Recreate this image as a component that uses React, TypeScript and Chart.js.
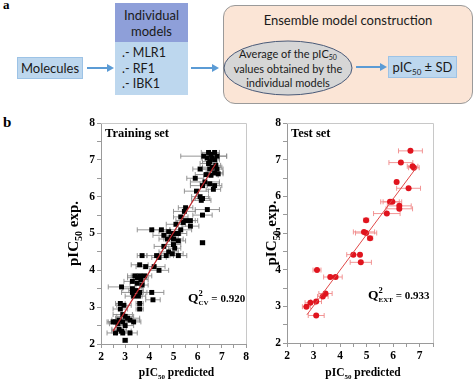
import React, { useEffect, useRef } from 'react';
import { Chart, registerables } from 'chart.js';
Chart.register(...registerables);

// ---------- data ----------
const trainPred = [6.45, 6.7, 6.55, 6.25, 6.8, 6.6, 6.4, 6.7, 6.5, 6.45, 6.75, 6.6, 6.8, 6.5, 6.7, 6.35, 6.55, 6.85, 6.1, 5.9, 6.3, 6.5, 6.7, 6.2, 6.65, 5.95, 6.1, 6.15, 6.2, 5.5, 5.45, 6.4, 6.2, 5.3, 5.5, 5.7, 5.4, 5.1, 5.7, 5.3, 4.1, 4.5, 4.8, 5.0, 5.2, 4.6, 4.9, 5.0, 5.2, 4.75, 6.2, 5.0, 4.6, 5.05, 4.8, 4.95, 5.2, 4.7, 4.3, 3.7, 4.4, 3.6, 3.85, 4.2, 4.4, 3.4, 3.6, 3.8, 3.5, 3.65, 3.3, 3.5, 3.7, 2.85, 3.3, 3.45, 3.3, 3.6, 4.1, 3.35, 3.55, 3.6, 4.15, 2.8, 2.95, 3.6, 2.8, 2.9, 3.0, 3.1, 2.75, 3.2, 2.5, 2.6, 2.7, 2.9, 3.35, 3.0, 2.75, 2.85, 2.6, 2.9, 3.2, 3.0];
const trainExp = [7.2, 7.2, 7.15, 7.1, 7.1, 7.05, 7.05, 7.0, 6.95, 6.9, 6.85, 6.8, 6.75, 6.75, 6.65, 6.6, 6.58, 6.62, 6.75, 6.5, 6.4, 6.35, 6.3, 6.3, 6.2, 6.15, 6.0, 5.9, 5.95, 5.7, 5.6, 5.65, 5.5, 5.45, 5.35, 5.35, 5.3, 5.25, 5.2, 5.1, 5.1, 5.1, 5.05, 5.0, 5.0, 4.95, 4.9, 4.85, 4.8, 4.85, 4.75, 4.7, 4.65, 4.6, 4.5, 4.45, 4.4, 4.4, 4.4, 4.4, 4.35, 4.15, 4.1, 4.1, 4.0, 3.85, 3.85, 3.85, 3.8, 3.75, 3.7, 3.65, 3.6, 3.55, 3.5, 3.45, 3.4, 3.4, 3.4, 3.3, 3.3, 3.1, 3.2, 3.1, 3.05, 2.95, 2.95, 2.8, 2.75, 2.7, 2.65, 2.65, 2.6, 2.6, 2.55, 2.6, 2.6, 2.5, 2.4, 2.35, 2.3, 2.3, 2.3, 2.1];
const trainSd = [0.3, 0.2, 0.35, 0.95, 0.4, 0.3, 0.25, 0.2, 0.3, 0.35, 0.2, 0.4, 0.25, 0.3, 0.35, 0.45, 0.3, 0.2, 0.3, 0.35, 0.6, 0.4, 0.3, 0.5, 0.3, 0.5, 0.35, 0.4, 0.3, 0.3, 0.45, 0.5, 0.4, 0.3, 0.4, 0.3, 0.25, 0.4, 0.35, 0.45, 0.6, 0.35, 0.4, 0.3, 0.35, 0.45, 0.3, 0.4, 0.3, 0.35, 0.1, 0.3, 0.4, 0.25, 0.4, 0.45, 0.35, 0.3, 0.4, 0.2, 0.3, 0.35, 0.4, 0.45, 0.4, 0.3, 0.35, 0.3, 0.4, 0.3, 0.35, 0.3, 0.25, 0.55, 0.4, 0.3, 0.45, 0.3, 0.5, 0.35, 0.3, 0.15, 0.3, 0.2, 0.3, 0.15, 0.3, 0.4, 0.35, 0.5, 0.3, 0.4, 0.25, 0.3, 0.35, 0.45, 0.3, 0.35, 0.3, 0.4, 0.35, 0.25, 0.3, 0.1];

const testPred = [6.65, 6.29, 6.73, 6.78, 6.13, 6.58, 5.88, 5.97, 6.23, 6.23, 5.76, 4.98, 4.9, 4.98, 5.13, 4.5, 4.75, 4.78, 3.13, 3.63, 3.83, 3.45, 3.35, 3.1, 2.88, 2.73, 3.1];
const testExp = [7.24, 6.92, 6.82, 6.78, 6.39, 6.22, 5.85, 5.85, 5.74, 5.66, 5.53, 5.35, 5.03, 5.0, 4.86, 4.41, 4.41, 4.2, 3.99, 3.8, 3.8, 3.35, 3.27, 3.13, 3.1, 2.99, 2.75];
const testSd = [0.45, 0.45, 0.2, 0.2, 0.05, 0.45, 0.35, 0.35, 0.45, 0.5, 0.5, 0.1, 0.4, 0.4, 0.1, 0.25, 0.05, 0.4, 0.15, 0.25, 0.25, 0.25, 0.2, 0.2, 0.2, 0.15, 0.3];

const trainFitX = [2.5, 6.75];
const trainFitY = [2.35, 6.9];
const testFitX = [2.75, 6.88];
const testFitY = [2.77, 6.79];

const trainXMax = 8;
const testXMax = 7.5;
const yMin = 2;
const yMax = 8;

// ---------- helpers ----------
type Part = { text: string; size: number; dy?: number; advance?: boolean };
const SERIF = '"Liberation Serif", "Times New Roman", serif';

function partsWidth(ctx: CanvasRenderingContext2D, parts: Part[]) {
  let w = 0;
  for (const p of parts) {
    ctx.font = `bold ${p.size}px ${SERIF}`;
    if (p.advance !== false) w += ctx.measureText(p.text).width;
  }
  return w;
}

function drawRich(ctx: CanvasRenderingContext2D, parts: Part[], x: number, baseline: number, align: 'left' | 'center') {
  let cx = align === 'center' ? x - partsWidth(ctx, parts) / 2 : x;
  ctx.textAlign = 'left';
  ctx.textBaseline = 'alphabetic';
  for (const p of parts) {
    ctx.font = `bold ${p.size}px ${SERIF}`;
    ctx.fillText(p.text, cx, baseline + (p.dy || 0));
    if (p.advance !== false) cx += ctx.measureText(p.text).width;
  }
}

function makeErrorBars(sd: number[], color: string) {
  return {
    id: 'errorBars',
    beforeDatasetsDraw(chart: any) {
      const meta = chart.getDatasetMeta(1);
      const ds = chart.data.datasets[1];
      const xs = chart.scales.x;
      const ys = chart.scales.y;
      const ctx = chart.ctx;
      ctx.save();
      ctx.strokeStyle = color;
      ctx.lineWidth = 0.9;
      ds.data.forEach((pt: any, i: number) => {
        const x0 = xs.getPixelForValue(pt.x - sd[i]);
        const x1 = xs.getPixelForValue(pt.x + sd[i]);
        const y = ys.getPixelForValue(pt.y);
        ctx.beginPath();
        ctx.moveTo(x0, y);
        ctx.lineTo(x1, y);
        ctx.moveTo(x0, y - 2.5);
        ctx.lineTo(x0, y + 2.5);
        ctx.moveTo(x1, y - 2.5);
        ctx.lineTo(x1, y + 2.5);
        ctx.stroke();
      });
      ctx.restore();
      void meta;
    },
  };
}

function makeDecor(cfg: { label: string; q: Part[]; qdx: number; qdy: number; ytx: number }) {
  return {
    id: 'decor',
    afterDraw(chart: any) {
      const ctx = chart.ctx as CanvasRenderingContext2D;
      const a = chart.chartArea;
      ctx.save();
      // top/right frame
      ctx.strokeStyle = '#c8c8c8';
      ctx.lineWidth = 1;
      ctx.beginPath();
      ctx.moveTo(a.left, a.top + 0.5);
      ctx.lineTo(a.right + 0.5, a.top + 0.5);
      ctx.lineTo(a.right + 0.5, a.bottom);
      ctx.stroke();
      ctx.fillStyle = '#000';
      // panel label
      drawRich(ctx, [{ text: cfg.label, size: 12.5 }], a.left + 4, a.top + 14, 'left');
      // Q^2 annotation
      drawRich(ctx, cfg.q, a.left + cfg.qdx, a.top + cfg.qdy, 'left');
      // x title
      drawRich(ctx, [
        { text: 'pIC', size: 11.5 },
        { text: '50', size: 7, dy: 3 },
        { text: ' predicted', size: 11.5 },
      ], (a.left + a.right) / 2 + 3, chart.height - 5, 'center');
      // y title
      ctx.translate(cfg.ytx, (a.top + a.bottom) / 2);
      ctx.rotate(-Math.PI / 2);
      drawRich(ctx, [
        { text: 'pIC', size: 15 },
        { text: '50', size: 10, dy: 4 },
        { text: ' exp.', size: 15 },
      ], 0, 5, 'center');
      ctx.restore();
    },
  };
}

function axisOpts(min: number, max: number, size: number, isX: boolean) {
  return {
    type: 'linear' as const,
    min,
    max,
    ticks: {
      stepSize: 0.5,
      autoSkip: false,
      maxRotation: 0,
      padding: isX ? 2 : 2,
      color: '#000',
      font: { family: SERIF, weight: 'bold' as const, size: 11.5 },
      callback: (v: any) => (Number.isInteger(v) ? String(v) : ''),
    },
    grid: { drawOnChartArea: false, drawTicks: true, tickLength: 4, color: '#9a9a9a' },
    border: { color: '#9a9a9a', width: 1 },
    afterFit: (s: any) => {
      if (isX) s.height = size;
      else s.width = size;
    },
  };
}

function ScatterPanel(props: {
  left: number; width: number; pred: number[]; exp: number[]; sd: number[];
  fitX: number[]; fitY: number[]; xMax: number; yWidth: number; xHeight: number; padRight: number;
  marker: 'rect' | 'circle'; color: string; barColor: string; lineColor: string; lineWidth: number;
  radius: number; label: string; q: Part[]; qdx: number; qdy: number; ytx: number;
}) {
  const ref = useRef<HTMLCanvasElement>(null);
  useEffect(() => {
    const canvas = ref.current!;
    const pts = props.pred.map((x, i) => ({ x, y: props.exp[i] }));
    const fit = props.fitX.map((x, i) => ({ x, y: props.fitY[i] }));
    const chart = new Chart(canvas, {
      type: 'scatter',
      data: {
        datasets: [
          {
            data: fit,
            showLine: true,
            borderColor: props.lineColor,
            borderWidth: props.lineWidth,
            pointRadius: 0,
            order: 0,
          } as any,
          {
            data: pts,
            pointStyle: props.marker,
            pointRadius: props.radius,
            backgroundColor: props.color,
            borderColor: props.color,
            borderWidth: 0,
            order: 1,
          } as any,
        ],
      },
      options: {
        animation: false,
        responsive: false,
        maintainAspectRatio: false,
        layout: { padding: { top: 10, right: props.padRight, left: 0, bottom: 0 } },
        plugins: { legend: { display: false }, tooltip: { enabled: false } },
        scales: {
          x: axisOpts(2, props.xMax, props.xHeight, true),
          y: axisOpts(yMin, yMax, props.yWidth, false),
        } as any,
      },
      plugins: [
        makeErrorBars(props.sd, props.barColor),
        makeDecor({ label: props.label, q: props.q, qdx: props.qdx, qdy: props.qdy, ytx: props.ytx }),
      ],
    });
    return () => chart.destroy();
  }, []);
  return (
    <canvas
      ref={ref}
      width={props.width}
      height={268}
      style={{ position: 'absolute', left: props.left, top: 113, width: props.width, height: 268 }}
    />
  );
}

const SANS = 'Lato, "Open Sans", "Noto Sans", sans-serif';

function Arrow({ x1, x2, y }: { x1: number; x2: number; y: number }) {
  return (
    <g>
      <line x1={x1} y1={y} x2={x2 - 6} y2={y} stroke="#5b9bd5" strokeWidth={2} />
      <polygon points={`${x2},${y} ${x2 - 7},${y - 4} ${x2 - 7},${y + 4}`} fill="#5b9bd5" />
    </g>
  );
}

export default function App() {
  const box: React.CSSProperties = {
    position: 'absolute', boxSizing: 'border-box', display: 'flex', alignItems: 'center',
    justifyContent: 'center', fontFamily: SANS, color: '#1a1a1a',
  };
  return (
    <div style={{ position: 'absolute', left: 0, top: 0, width: 474, height: 381, overflow: 'hidden', background: '#fff' }}>
      <div style={{ position: 'absolute', left: 3, top: -3, fontFamily: SERIF, fontWeight: 'bold', fontSize: 13 }}>a</div>
      <div style={{ position: 'absolute', left: 3, top: 114, fontFamily: SERIF, fontWeight: 'bold', fontSize: 15 }}>b</div>

      <div style={{ ...box, left: 17, top: 57, width: 66, height: 22, background: '#bdd7ee', border: '1px solid #9dc3e6', fontSize: 13 }}>Molecules</div>

      <div style={{ ...box, left: 115, top: 3, width: 73, height: 39, background: '#8e9fd9', flexDirection: 'column', fontSize: 13, lineHeight: '16px' }}>
        <div>Individual</div>
        <div>models</div>
      </div>
      <div style={{ ...box, left: 115, top: 42, width: 73, height: 53, background: '#bdd7ee', flexDirection: 'column', alignItems: 'flex-start', paddingLeft: 7, fontSize: 12.5, lineHeight: '15.5px' }}>
        <div>.- MLR1</div>
        <div>.- RF1</div>
        <div>.- IBK1</div>
      </div>

      <div style={{ position: 'absolute', boxSizing: 'border-box', left: 223, top: 5, width: 250, height: 99, background: '#fbe5d6', border: '1px solid #9a9a9a', borderRadius: 12 }} />
      <div style={{ position: 'absolute', left: 223, top: 12, width: 250, textAlign: 'center', fontFamily: SANS, fontSize: 13, color: '#1a1a1a' }}>Ensemble model construction</div>

      <svg width={474} height={110} style={{ position: 'absolute', left: 0, top: 0 }}>
        <Arrow x1={87} x2={114} y={68} />
        <Arrow x1={191} x2={219} y={68} />
        <Arrow x1={356} x2={387} y={67} />
        <ellipse cx={288} cy={68} rx={64} ry={27} fill="#d6d6d6" stroke="#4a5a78" strokeWidth={1} />
      </svg>
      <div style={{ ...box, left: 224, top: 44, width: 128, height: 48, flexDirection: 'column', fontSize: 11, lineHeight: '13.5px' }}>
        <div>Average of the pIC<sub style={{ fontSize: 7, verticalAlign: 'baseline', position: 'relative', top: 2 }}>50</sub></div>
        <div>values obtained by the</div>
        <div>individual models</div>
      </div>

      <div style={{ ...box, left: 388, top: 56, width: 69, height: 22, background: '#bdd7ee', border: '1px solid #9dc3e6', fontSize: 13 }}>
        <span>pIC<sub style={{ fontSize: 8, verticalAlign: 'baseline', position: 'relative', top: 3 }}>50</sub> ± SD</span>
      </div>

      <ScatterPanel
        left={55} width={198} pred={trainPred} exp={trainExp} sd={trainSd}
        fitX={trainFitX} fitY={trainFitY} xMax={trainXMax} yWidth={46} xHeight={37} padRight={7}
        marker="rect" color="#000" barColor="#8a8a8a" lineColor="#c0282d" lineWidth={1.3} radius={3.5}
        label="Training set"
        q={[{ text: 'Q', size: 13.5 }, { text: '2', size: 8.5, dy: -6, advance: false }, { text: 'CV', size: 7, dy: 3 }, { text: ' = 0.920', size: 11 }]}
        qdx={87} qdy={179} ytx={18}
      />
      <ScatterPanel
        left={255} width={219} pred={testPred} exp={testExp} sd={testSd}
        fitX={testFitX} fitY={testFitY} xMax={testXMax} yWidth={32} xHeight={38} padRight={41}
        marker="circle" color="#e0141e" barColor="#f08a8a" lineColor="#e04848" lineWidth={1} radius={3}
        label="Test set"
        q={[{ text: 'Q', size: 13.5 }, { text: '2', size: 8.5, dy: -6, advance: false }, { text: 'EXT', size: 7, dy: 3 }, { text: ' = 0.933', size: 11 }]}
        qdx={81} qdy={176} ytx={16}
      />
    </div>
  );
}
